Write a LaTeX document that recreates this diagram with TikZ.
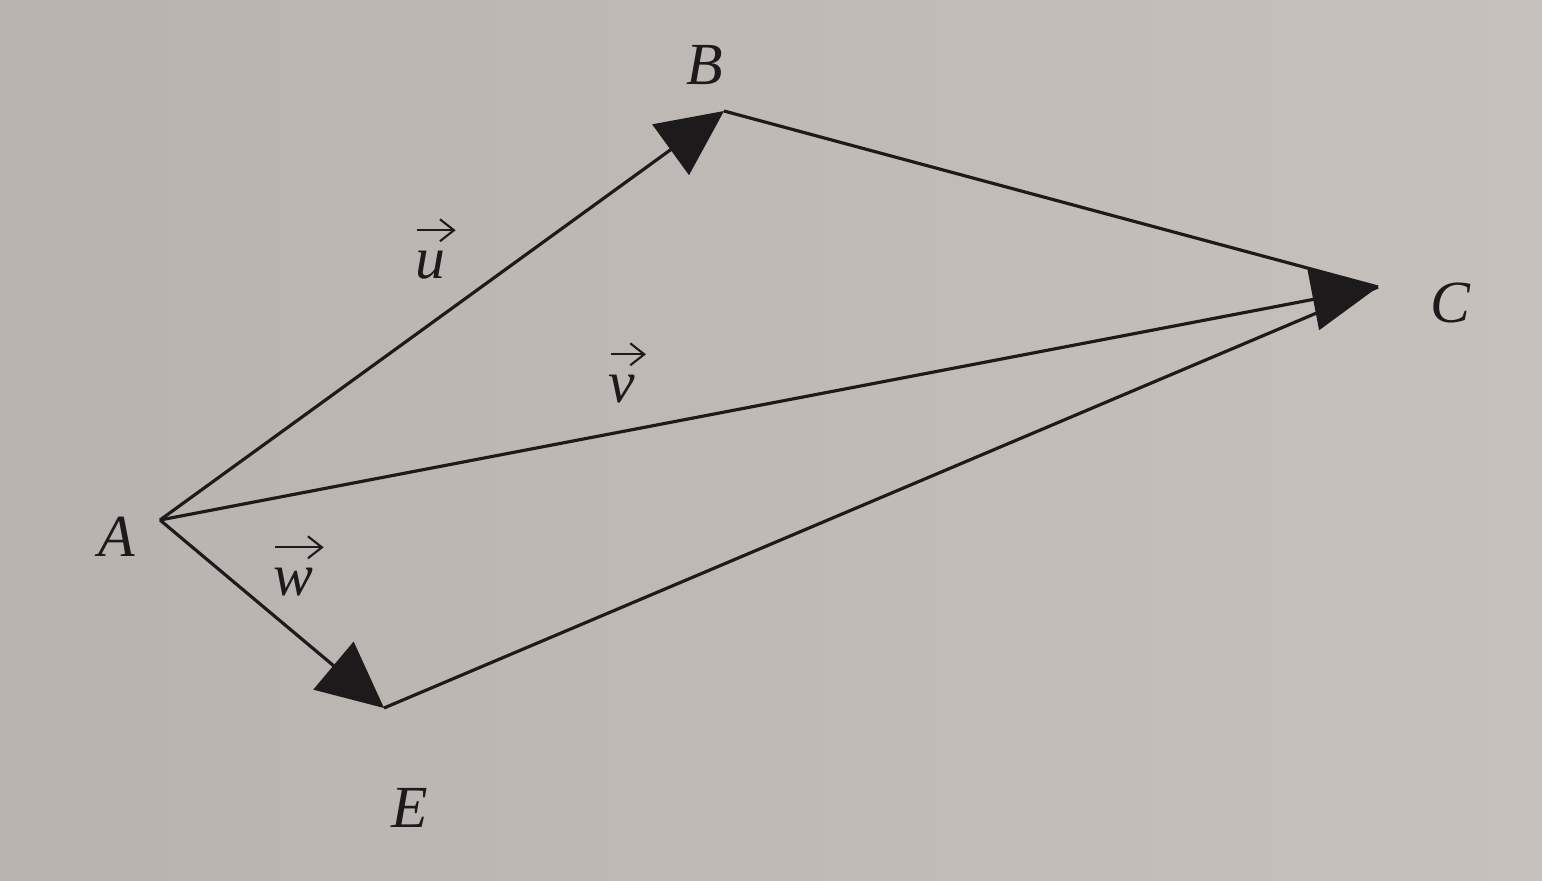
\documentclass[tikz,border=0pt]{standalone}
\usepackage{amsmath, amssymb}
\usepackage{fontspec}
\setmainfont{Liberation Serif}
\usepackage{tikz}
\usetikzlibrary{arrows.meta}

\definecolor{paper}{RGB}{184,179,174}
\definecolor{paperlight}{RGB}{198,193,188}
\definecolor{ink}{RGB}{28,26,26}

\tikzset{
    vecline/.style={ink, line width=0.9pt},
    vecarrow/.style={vecline, -{Triangle[length=6.6mm, width=6.2mm]}},
    ptlabel/.style={ink, font=\fontsize{17}{20}\selectfont\itshape},
    veclabel/.style={ptlabel, inner sep=0pt},
    overarrow/.style={ink, line width=0.6pt, -{Straight Barb[length=1.4mm, width=2.2mm]}}
}

\begin{document}
\begin{tikzpicture}
            \shade[left color=paper, right color=paperlight] (0,0) rectangle (15.42,-8.80);
            \useasboundingbox (0,0) rectangle (15.42,-8.80);

            \coordinate (A) at (1.60,-5.20);
            \coordinate (B) at (7.24,-1.11);
            \coordinate (C) at (13.78,-2.87);
            \coordinate (E) at (3.84,-7.08);

            \draw[vecline] (B) -- (C);
            \draw[vecline] (E) -- (C);
            \draw[vecarrow] (A) -- (B);
            \draw[vecarrow] (A) -- (C);
            \draw[vecarrow] (A) -- (E);

            \node[ptlabel] (labA) at (1.17,-5.37) {A};
            \node[ptlabel] (labB) at (7.05,-0.65) {B};
            \node[ptlabel] (labC) at (14.50,-3.03) {C};
            \node[ptlabel] (labE) at (4.10,-8.08) {E};

            \node[veclabel] (labu) at (4.30,-2.65) {u};
            \node[veclabel] (labv) at (6.22,-3.89) {v};
            \node[veclabel] (labw) at (2.93,-5.82) {w};

            % arrows over the vector names
            \foreach \n in {u,v,w}
                \draw[overarrow] ([xshift=0.3mm, yshift=2mm]lab\n.north west) -- ([xshift=1mm, yshift=2mm]lab\n.north east);
        \end{tikzpicture}
\end{document}
